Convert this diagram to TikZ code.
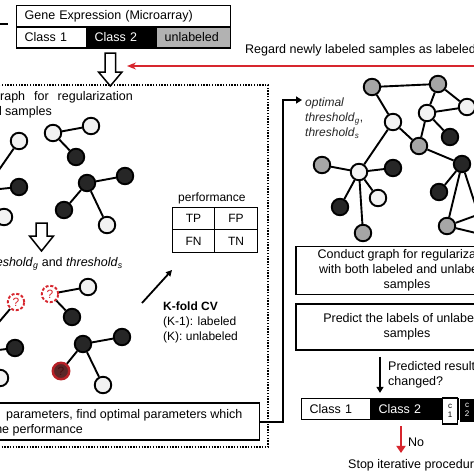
\documentclass[tikz,border=0pt]{standalone}
\usepackage{fontspec}
\setmainfont{Liberation Sans}
\usetikzlibrary{arrows.meta,calc,positioning}
\definecolor{qred}{HTML}{D7262E}
\definecolor{nwhite}{HTML}{F2F2F2}
\definecolor{ngray}{HTML}{A6A6A6}
\definecolor{nblack}{HTML}{262626}
\tikzset{
    mtext/.style = {font=\fontsize{12.5}{15}\selectfont, inner sep=0pt},
    stext/.style = {font=\fontsize{12}{15}\selectfont, inner sep=0pt},
    tinytext/.style = {font=\fontsize{8}{9}\selectfont, inner sep=0pt},
    cell/.style = {draw, line width=1.3pt, minimum height=21pt, inner xsep=8pt, align=left, anchor=west, font=\fontsize{12.5}{15}\selectfont},
    tcell/.style = {draw, line width=1.3pt, minimum width=42.5pt, minimum height=22.5pt, inner sep=0pt, font=\fontsize{12}{15}\selectfont},
    stepbox/.style = {draw, line width=1.5pt, minimum width=222pt, align=center, font=\fontsize{12.5}{15}\selectfont},
    wnode/.style = {circle, draw, line width=1.9pt, fill=nwhite, minimum size=16.5pt, inner sep=0pt},
    bnode/.style = {wnode, fill=nblack},
    gnode/.style = {wnode, fill=ngray},
    qnode/.style = {wnode, draw=qred, dash pattern=on 3pt off 1.8pt, fill=white, text=qred, font=\fontsize{12}{12}\selectfont},
    qdark/.style = {wnode, draw=qred!85!black, line width=2.4pt, fill=nblack!70!qred, text=qred!35!black, font=\fontsize{12}{12}\selectfont},
    edge/.style = {line width=1.9pt},
    hollow/.style = {draw, line width=1.5pt, fill=white},
    fbarrow/.style = {line width=2pt, -{Triangle[length=6pt,width=7pt]}},
    redarrow/.style = {qred, line width=1.4pt, -{Stealth[length=9pt,width=7pt]}},
    reddown/.style = {qred, line width=2.6pt, -{Triangle[length=7pt,width=9pt]}}
}

\begin{document}
\begin{tikzpicture}[x=1pt,y=-1pt]
    \useasboundingbox (0,0) rectangle (474,474);
    \clip (0,0) rectangle (474,474);
    \fill[white] (0,0) rectangle (474,474);

    %% input data
    \draw[edge] (-6,24) -- (8,24);
    \node[cell, text width=198pt] (gene) at (16,16) {Gene Expression (Microarray)};
    \node[cell, text width=54pt] (cls1) at (16,37.5) {Class 1};
    \node[cell, text width=54pt, fill=black, text=white] (cls2) at (86,37.5) {Class 2};
    \node[cell, text width=58pt, fill=black!30] (unlab) at (156,37.5) {unlabeled};
    \draw[hollow] (105,53) -- (115.5,53) -- (115.5,72) -- (122,72) -- (110.3,86)
        -- (98.5,72) -- (105,72) -- cycle;

    %% feedback
    \coordinate (fbstart) at (480,66);
    \coordinate (fbend) at (127,66);
    \draw[redarrow] (fbstart) -- (fbend);
    \node[mtext, anchor=west] (regard) at (245,50) {Regard newly labeled samples as labeled};

    %% parameter search
    \draw[line width=1.6pt, dash pattern=on 1.4pt off 1.4pt] (-6,85) rectangle (268,447);
    \node[mtext, anchor=east] (cond1) at (133,97) {graph\hspace{9pt}for\hspace{9pt}regularization};
    \node[mtext, anchor=east] (cond2) at (52,112) {all samples};

    %% labeled graphs
    \node[wnode] (ua) at (19,141) {};
    \node[bnode] (ub) at (19,187) {};
    \node[wnode] (uc) at (4,217) {};
    \node[wnode] (ud) at (53,133) {};
    \node[wnode] (ue) at (91,126) {};
    \node[bnode] (uf) at (76,157) {};
    \node[bnode] (ug) at (87,183) {};
    \node[bnode] (uh) at (125,176) {};
    \node[bnode] (ui) at (64,210) {};
    \node[wnode] (uj) at (107,225) {};
    \coordinate (ua0) at (-6,177);
    \coordinate (ub0) at (-10,190);
    \draw[edge] (ua) -- (ua0) (ub) -- (ub0);
    \draw[edge] (ud) -- (ue) (ud) -- (uf);
    \draw[edge] (ug) -- (uh) (ug) -- (ui) (ug) -- (uj);

    \draw[hollow] (36,223) -- (47,223) -- (47,236) -- (53.5,236) -- (41.5,251)
        -- (29.5,236) -- (36,236) -- cycle;
    \node[mtext, anchor=east] (thres) at (123,264)
        {\textit{threshold}\textsubscript{\textit{g}} and \textit{threshold}\textsubscript{\textit{s}}};

    %% graphs with held-out samples
    \node[qnode] (la) at (16,302) {?};
    \node[qnode] (lb) at (50,294) {?};
    \node[wnode] (lc) at (88,287) {};
    \node[bnode] (ld) at (72,317) {};
    \node[bnode] (le) at (15,348) {};
    \node[wnode] (lf) at (0,378) {};
    \node[bnode] (lg) at (83,344) {};
    \node[bnode] (lh) at (122,337) {};
    \node[qdark] (li) at (61,371) {?};
    \node[wnode] (lj) at (103,385) {};
    \coordinate (la0) at (-6,328);
    \coordinate (le0) at (-10,351);
    \draw[edge] (la) -- (la0) (le) -- (le0);
    \draw[edge] (lb) -- (lc) (lb) -- (ld);
    \draw[edge] (lg) -- (lh) (lg) -- (li) (lg) -- (lj);

    %% performance table
    \node[stext, anchor=west] (perf) at (178,198) {performance};
    \node[tcell] (tp) at (193.5,218.5) {TP};
    \node[tcell] (fp) at (236,218.5) {FP};
    \node[tcell] (fn) at (193.5,241) {FN};
    \node[tcell] (tn) at (236,241) {TN};
    \coordinate (kfrom) at (142,303);
    \coordinate (kto) at (172,270);
    \draw[line width=1.8pt, -{Triangle[length=6pt,width=6pt]}] (kfrom) -- (kto);
    \node[stext, anchor=west, align=left] (kfold) at (163,322)
        {\textbf{K-fold CV}\\(K-1): labeled\\(K): unlabeled};

    \node[draw, line width=1.5pt, minimum width=300pt, minimum height=37pt, anchor=east] (optbox) at (260,421.5) {};
    \node[mtext, anchor=west] (opt1) at (6,415) {parameters, find optimal parameters which};
    \node[mtext, anchor=east] (opt2) at (83,430) {the performance};

    %% optimal parameters
    \coordinate (optin) at (302,100);
    \draw[fbarrow] (optbox.east) -- ++(23,0) |- (optin);
    \node[stext, anchor=west, align=left, text=black!85] (optlab) at (305,118)
        {\textit{optimal}\\\textit{threshold}\textsubscript{\textit{g}},\\\textit{threshold}\textsubscript{\textit{s}}};

    %% graph with all samples
    \node[gnode] (ra) at (372,87) {};
    \node[gnode] (rb) at (438,84) {};
    \node[wnode] (rc) at (467,107) {};
    \node[wnode] (rd) at (427,113) {};
    \node[wnode] (re) at (393,122) {};
    \node[bnode] (rf) at (450,137) {};
    \node[gnode] (rg) at (419,146) {};
    \node[bnode] (rh) at (462,164) {};
    \node[wnode] (ri) at (359,172) {};
    \node[gnode] (rj) at (322,165) {};
    \node[bnode] (rk) at (393,168) {};
    \node[wnode] (rl) at (378,198) {};
    \node[bnode] (rm) at (340,207) {};
    \node[gnode] (rn) at (363,233) {};
    \node[bnode] (ro) at (439,192) {};
    \node[gnode] (rp) at (447,226) {};
    \coordinate (rx1) at (479,216);
    \coordinate (rx2) at (480,214);
    \coordinate (rx3) at (480,234);
    \draw[edge] (ra) -- (rb) (ra) -- (re) (rb) -- (rd) (rb) -- (rc) (rd) -- (rc);
    \draw[edge] (rd) -- (rg) (rd) -- (rf) (re) -- (rg) (re) -- (ri) (rg) -- (rh);
    \draw[edge] (ri) -- (rj) (ri) -- (rk) (ri) -- (rl) (ri) -- (rm) (ri) -- (rn);
    \draw[edge] (rh) -- (ro) (rh) -- (rp) (rh) -- (rx1) (rp) -- (rx2) (rp) -- (rx3);

    %% prediction steps
    \node[stepbox, minimum height=45pt] (conduct) at (407,270.5)
        {Conduct graph for regularization\\with both labeled and unlabeled\\samples};
    \node[stepbox, minimum height=46pt] (predict) at (407,327)
        {Predict the labels of unlabeled\\samples};

    \node[cell, text width=53pt] (bc1) at (301,409) {Class 1};
    \node[cell, text width=164pt, fill=black, text=white] (bc2) at (370,409) {Class 2};
    \node[draw, line width=1.3pt, fill=white, minimum width=15pt, minimum height=26pt,
        tinytext, align=center] (c1) at (450,411) {c\\1};
    \node[draw=white, line width=0.6pt, fill=black, text=white, minimum width=15pt, minimum height=24pt,
        tinytext, align=center] (c2) at (467,410) {c\\2};

    \coordinate (arrx) at (380,0);
    \draw[fbarrow, shorten <=6pt, shorten >=5pt] (predict.south -| arrx) -- (bc2.north -| arrx);
    \node[mtext, anchor=west, align=left] (changed) at (388,374.5) {Predicted results\\changed?};

    %% stop
    \node[mtext, anchor=west] (stop) at (348,465) {Stop iterative procedure};
    \coordinate (redx) at (401,0);
    \draw[reddown, shorten <=6pt, shorten >=6pt] (bc2.south -| redx) -- (stop.north -| redx);
    \node[mtext, anchor=west] (no) at (408,442) {No};
\end{tikzpicture}
\end{document}
